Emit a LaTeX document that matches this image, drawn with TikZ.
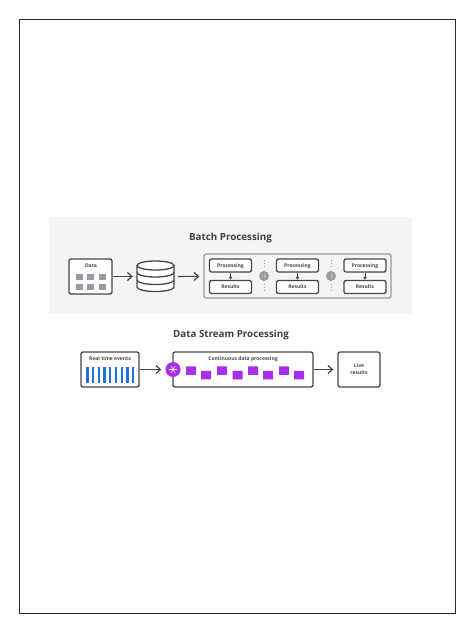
\documentclass[tikz,border=0pt]{standalone}
\usepackage{fontspec}
\setmainfont{Open Sans}
\usepackage{xcolor}
\usetikzlibrary{
    arrows.meta,
    positioning
}
\definecolor{ink}{HTML}{45454D}
\definecolor{panelgray}{HTML}{F4F4F4}
\definecolor{tilegray}{HTML}{9A9AA4}
\definecolor{streamblue}{HTML}{1F6FE0}
\definecolor{streampurple}{HTML}{A92EEB}

\begin{document}
\begin{tikzpicture}[
    x=1pt, y=-1pt,
    box/.style={
        rectangle,
        rounded corners=2pt,
        draw=ink,
        line width=1.3pt,
        fill=white,
        align=center,
        inner sep=0pt,
        text=ink,
        font=\fontsize{5}{7}\selectfont\bfseries
    },
    small/.style={box, minimum width=42pt, minimum height=13pt, text depth=0pt},
    tile/.style={rectangle, fill=tilegray, minimum width=7pt, minimum height=6pt, inner sep=0pt},
    event/.style={rectangle, fill=streamblue, minimum width=2.3pt, minimum height=16pt, inner sep=0pt},
    item/.style={rectangle, rounded corners=0.5pt, fill=streampurple, minimum width=10pt, minimum height=8.5pt, inner sep=0pt},
    clock/.style={circle, fill=tilegray, minimum size=10pt, inner sep=0pt},
    note/.style={font=\fontsize{5}{7}\selectfont\bfseries, text=ink, inner sep=0pt},
    heading/.style={font=\fontsize{9.8}{11}\selectfont\bfseries, text=ink!90!black, inner sep=0pt},
    arrow/.style={-{Straight Barb[length=4.5pt,width=8pt]}, line width=1.2pt, draw=ink},
    step arrow/.style={-{Latex[length=3pt,width=4pt]}, line width=1pt, draw=ink},
    tick/.style={draw=tilegray, line width=0.8pt, dotted}
]
\useasboundingbox (0,0) rectangle (474,632);

% =========================================================
% Page frame and panel
% =========================================================
\node[rectangle, draw=black!85, line width=0.9pt, minimum width=436pt, minimum height=594pt, inner sep=0pt] (frame) at (237,316) {};
\node[rectangle, fill=panelgray, minimum width=363pt, minimum height=97pt, inner sep=0pt] (panel) at (230.5,265.5) {};

% =========================================================
% Batch processing
% =========================================================
\node[heading] (batchtitle) at (230.5,237.5) {Batch Processing};

\node[box, minimum width=43pt, minimum height=35pt] (data) at (90.5,276.5) {};
\node[note] (datalabel) at (91,266) {Data};
\foreach \col/\x in {1/79,2/90.5,3/102}{
    \node[tile] (tilea\col) at (\x,276.5) {};
    \node[tile] (tileb\col) at (\x,286.5) {};
}

% database, drawn over an empty node so arrows can reach it
\node[rectangle, minimum width=37pt, minimum height=30pt, inner sep=0pt] (db) at (155.5,276.5) {};
\draw[ink, line width=1.3pt, fill=white] (137,265.5) -- (137,287)
    arc[start angle=180, end angle=360, x radius=18.5pt, y radius=4.5pt]
    -- (174,265.5);
\draw[ink, line width=1.3pt, fill=white] (155.5,265.5) ellipse[x radius=18.5pt, y radius=4.5pt];
\draw[ink, line width=1.3pt] (137,272.5) arc[start angle=180, end angle=360, x radius=18.5pt, y radius=4.5pt];
\draw[ink, line width=1.3pt] (137,280) arc[start angle=180, end angle=360, x radius=18.5pt, y radius=4.5pt];

\node[rectangle, rounded corners=2pt, draw=black!40, line width=1.2pt, fill=panelgray, minimum width=187pt, minimum height=44pt, inner sep=0pt] (jobs) at (297.5,276) {};

\foreach \n/\x in {1/230.5,2/297.5,3/365}{
    \node[small] (proc\n) at (\x,265.5) {Processing};
    \node[small] (res\n) at (\x,287) {Results};
    \draw[step arrow] (proc\n) -- (res\n);
}

\foreach \n/\x in {1/264,2/331}{
    \node[clock] (clock\n) at (\x,276) {};
    \draw[white, line width=0.5pt] (\x,273.5) -- (\x,276) -- (\x+1.8,277.2);
    \coordinate (ticktop\n) at (\x,260);
    \coordinate (tickbot\n) at (\x,292);
    \draw[tick] (ticktop\n) -- ([yshift=3pt]clock\n.north);
    \draw[tick] ([yshift=-3pt]clock\n.south) -- (tickbot\n);
}

\draw[arrow, shorten >=4pt] (data) -- (db);
\draw[arrow, shorten <=4pt, shorten >=4pt] (db) -- (jobs);

% =========================================================
% Data stream processing
% =========================================================
\node[heading] (streamtitle) at (231,335) {Data Stream Processing};

\node[box, minimum width=58pt, minimum height=35pt] (events) at (110,369.5) {};
\node[note] (eventslabel) at (110,359) {Real time events};
\foreach \n in {0,...,8}{
    \node[event] (bar\n) at (87.5+\n*5.7,375) {};
}

\node[box, minimum width=140pt, minimum height=35pt] (stream) at (243,369.5) {};
\node[note] (streamlabel) at (243,359) {Continuous data processing};

\node[circle, fill=streampurple, minimum size=15pt, inner sep=0pt] (source) at (173,369.5) {};
\foreach \a in {0,60,120}{
    \draw[white, line width=0.5pt] ([shift={(\a:4pt)}]source.center) -- ([shift={(\a+180:4pt)}]source.center);
}

\foreach \n/\x/\y in {1/191/370.5,2/206/375,3/222/370.5,4/237.5/375,5/253/370.5,6/268/375,7/284/370.5,8/299/375}{
    \node[item] (item\n) at (\x,\y) {};
}

\node[box, minimum width=42pt, minimum height=35pt] (live) at (359,369.5) {Live\\results};

\draw[arrow, shorten >=4pt] (events) -- (source);
\draw[arrow, shorten >=4pt] (stream) -- (live);

\end{tikzpicture}
\end{document}
